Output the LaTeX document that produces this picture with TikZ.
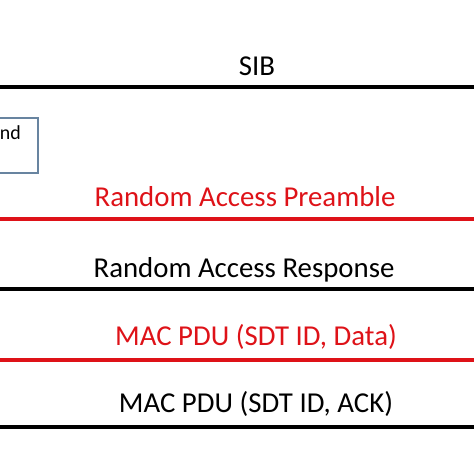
\documentclass[tikz,border=0pt]{standalone}
\usepackage{fontspec}
\setmainfont{Carlito}
\usepackage{tikz}
\usetikzlibrary{positioning}

\definecolor{msgred}{RGB}{222,18,24}
\definecolor{boxblue}{RGB}{104,132,160}

\begin{document}
\begin{tikzpicture}[
  msg/.style={anchor=base, font=\fontsize{24.6}{28}\selectfont},
  msgline/.style={line width=3.2pt},
  uebox/.style={draw=boxblue, line width=1pt}
]
\useasboundingbox (0,0) rectangle (14.22,14.22);

% left end and right end of each message line
\coordinate (w1) at (-0.2,11.61);  \coordinate (e1) at (14.42,11.61);
\coordinate (w2) at (-0.2,7.65);   \coordinate (e2) at (14.42,7.65);
\coordinate (w3) at (-0.2,5.55);   \coordinate (e3) at (14.42,5.55);
\coordinate (w4) at (-0.2,3.42);   \coordinate (e4) at (14.42,3.42);
\coordinate (w5) at (-0.2,1.41);   \coordinate (e5) at (14.42,1.41);

\node[msg] (sib) at (7.71,11.94) {SIB};
\node[msg, text=msgred] (rap) at (7.35,8.03) {Random Access Preamble};
\node[msg] (rar) at (7.32,5.89) {Random Access Response};
\node[msg, text=msgred] (data) at (7.68,3.85) {MAC PDU (SDT ID, Data)};
\node[msg] (ack) at (7.68,1.83) {MAC PDU (SDT ID, ACK)};

\draw[msgline] (w1) -- (e1);
\draw[msgline, msgred] (w2) -- (e2);
\draw[msgline] (w3) -- (e3);
\draw[msgline, msgred] (w4) -- (e4);
\draw[msgline] (w5) -- (e5);

% box cut off at the left edge
\draw[uebox] (-0.3,9.03) rectangle (1.14,10.68);
\node[anchor=base east, inner sep=0pt, font=\fontsize{17}{20}\selectfont] (note) at (0.63,10.02) {nd};
\end{tikzpicture}
\end{document}
